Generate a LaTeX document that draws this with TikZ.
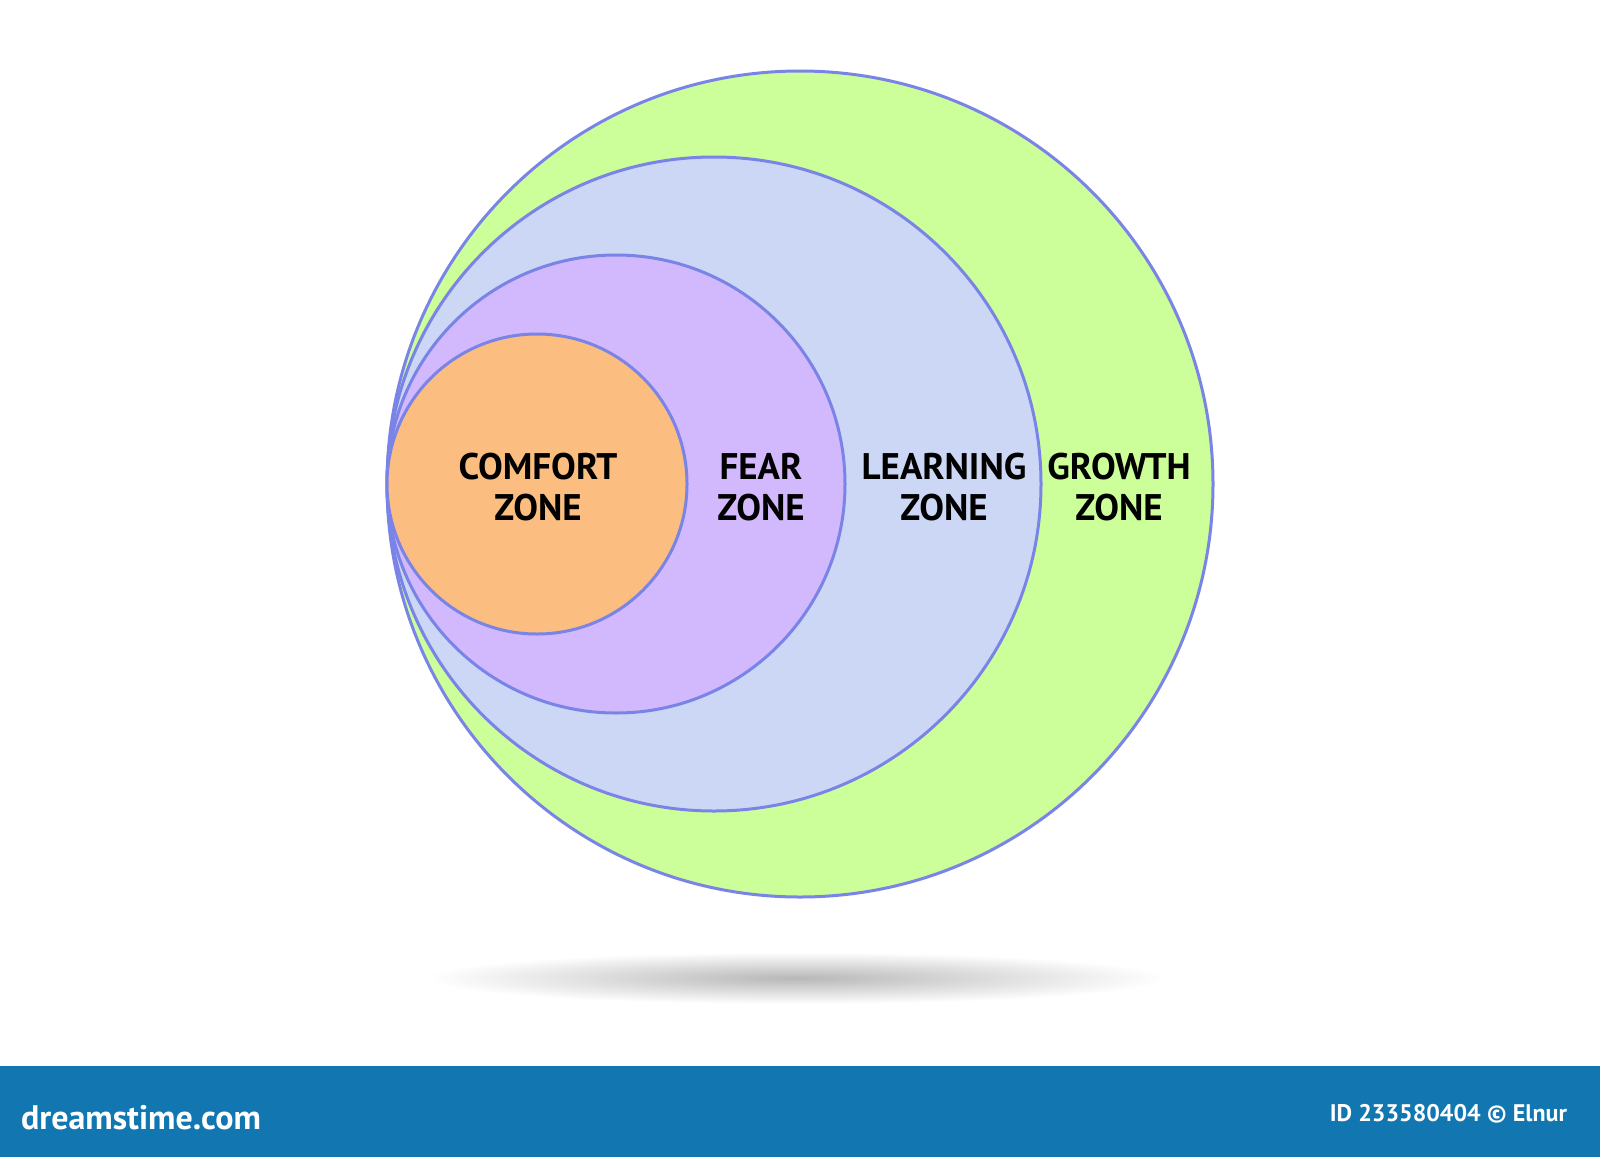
\documentclass[tikz,border=0pt]{standalone}
\usepackage{fontspec}
\setmainfont{PT Sans}
\usepackage{xcolor}
\usepackage{tikz}
\usetikzlibrary{positioning,shapes,calc}

\definecolor{edgeblue}{HTML}{7A84E6}
\definecolor{growthgreen}{HTML}{CCFF99}
\definecolor{learnblue}{HTML}{CCD6F5}
\definecolor{fearviolet}{HTML}{D2B9FD}
\definecolor{comfortorange}{HTML}{FBBE80}
\definecolor{barblue}{HTML}{1277B0}

\tikzset{
    zone/.style={draw=edgeblue, line width=1.5pt, circle, inner sep=0pt},
    zonelabel/.style={align=center, font=\bfseries\fontsize{18.5}{20.5}\selectfont}
}

\begin{document}
\begin{tikzpicture}[x=0.5pt, y=-0.5pt]
    \useasboundingbox (0,0) rectangle (1600,1157);
    \fill[white] (0,0) rectangle (1600,1157);

    % Shadow under the circles
    \shade[inner color=black!28, outer color=white] (796,978) ellipse (370 and 26);

    % Define the zones (sizes in pt, 1pt = 2px)
    \node[zone, fill=growthgreen, minimum size=413pt] (growth) at (800,484) {};
    \node[zone, fill=learnblue, minimum size=327pt] (learning) at (714,484) {};
    \node[zone, fill=fearviolet, minimum size=229pt] (fear) at (616,484) {};
    \node[zone, fill=comfortorange, minimum size=150pt] (comfort) at (537,484) {};

    % Labels
    \node[zonelabel] (comfortlbl) at (538,487) {COMFORT\\ZONE};
    \node[zonelabel] (fearlbl) at (761,487) {FEAR\\ZONE};
    \node[zonelabel] (learninglbl) at (944,487) {LEARNING\\ZONE};
    \node[zonelabel] (growthlbl) at (1119,487) {GROWTH\\ZONE};

    % Footer bar
    \fill[barblue] (0,1066) rectangle (1600,1157);
    \node[anchor=west, text=white, font=\bfseries\fontsize{17}{17}\selectfont] (site) at (14,1118) {dreamstime.com};
    \node[anchor=east, text=white, font=\bfseries\fontsize{12}{12}\selectfont] (imgid) at (1574,1114) {ID 233580404 © Elnur};
\end{tikzpicture}
\end{document}
